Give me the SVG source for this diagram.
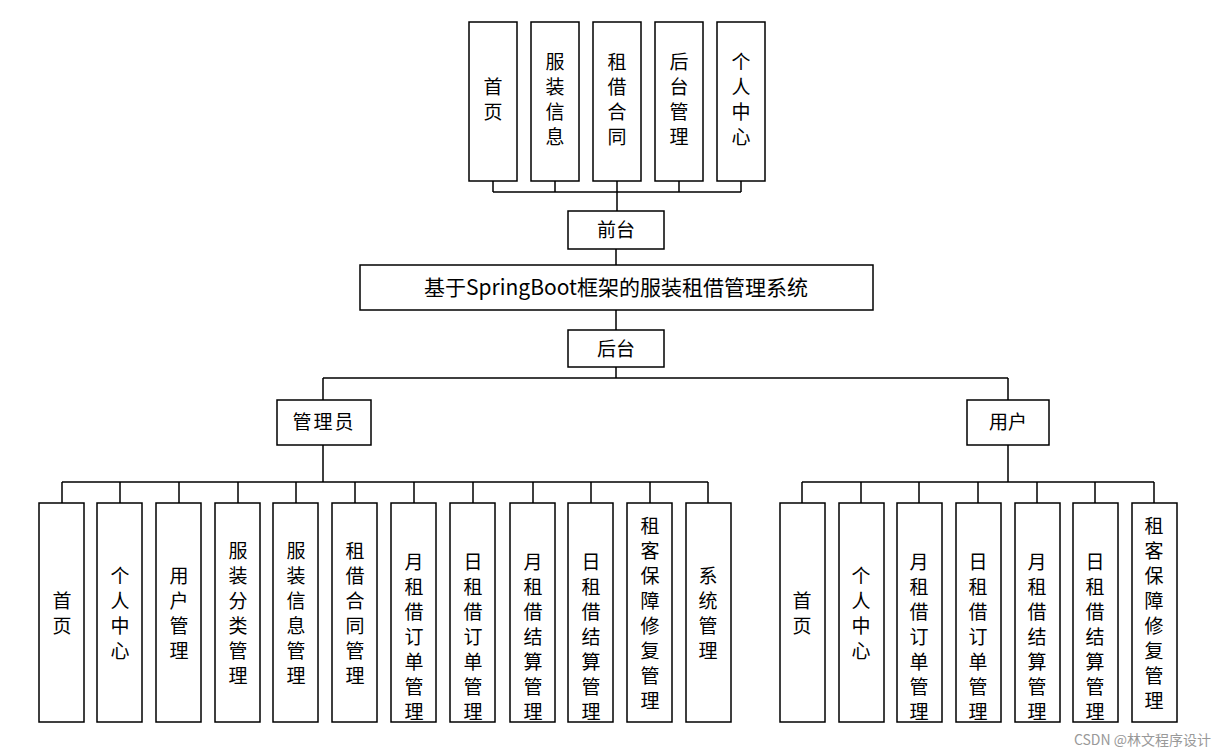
<svg xmlns="http://www.w3.org/2000/svg" width="1215" height="749" viewBox="0 0 1215 749">
<style>
rect{fill:#fff;stroke:#000;stroke-width:1.5}
text{font-family:"Noto Sans CJK SC","Noto Sans",sans-serif;font-size:19px;text-anchor:middle;fill:#000}
.c path{fill:none;stroke:#000;stroke-width:1.5}
.wm{font-size:14px;fill:#999;text-anchor:end}
</style>
<rect width="1215" height="749" style="stroke:none"/>
<g class="c">
<path d="M493 181V192M555 181V192M617 181V211M679 181V192M741 181V192M493 192H741"/>
<path d="M616 249V265M616 310V330M616 367V378M323 378H1008M323 378V400M1008 378V400"/>
<path d="M323 445V482M62 482H708M62 482V503M120 482V503M179 482V503M238 482V503M296 482V503M355 482V503M414 482V503M473 482V503M533 482V503M591 482V503M650 482V503M708 482V503"/>
<path d="M1008 445V482M802 482H1154M802 482V503M861 482V503M919 482V503M978 482V503M1037 482V503M1095 482V503M1154 482V503"/>
</g>
<g id="t1"><rect x="469" y="22" width="48" height="159"/><text x="493"><tspan x="493" y="94">首</tspan><tspan x="493" dy="25">页</tspan></text></g>
<g id="t2"><rect x="531" y="22" width="48" height="159"/><text><tspan x="555" y="69">服</tspan><tspan x="555" dy="25">装</tspan><tspan x="555" dy="25">信</tspan><tspan x="555" dy="25">息</tspan></text></g>
<g id="t3"><rect x="593" y="22" width="48" height="159"/><text><tspan x="617" y="69">租</tspan><tspan x="617" dy="25">借</tspan><tspan x="617" dy="25">合</tspan><tspan x="617" dy="25">同</tspan></text></g>
<g id="t4"><rect x="655" y="22" width="48" height="159"/><text><tspan x="679" y="69">后</tspan><tspan x="679" dy="25">台</tspan><tspan x="679" dy="25">管</tspan><tspan x="679" dy="25">理</tspan></text></g>
<g id="t5"><rect x="717" y="22" width="48" height="159"/><text><tspan x="741" y="69">个</tspan><tspan x="741" dy="25">人</tspan><tspan x="741" dy="25">中</tspan><tspan x="741" dy="25">心</tspan></text></g>
<g id="qt"><rect x="568" y="211" width="96" height="38"/><text x="616" y="237">前台</text></g>
<g id="main"><rect x="360" y="265" width="513" height="45"/><text x="616" y="295" style="font-size:21px">基于SpringBoot框架的服装租借管理系统</text></g>
<g id="ht"><rect x="568" y="330" width="96" height="37"/><text x="616" y="356">后台</text></g>
<g id="admin"><rect x="277" y="400" width="94" height="45"/><text x="324" y="429" letter-spacing="2">管理员</text></g>
<g id="user"><rect x="967" y="400" width="82" height="45"/><text x="1008" y="429">用户</text></g>
<g id="a1"><rect x="39" y="503" width="45" height="219"/><text><tspan x="62" y="608">首</tspan><tspan x="62" dy="25">页</tspan></text></g>
<g id="a2"><rect x="97" y="503" width="45" height="219"/><text><tspan x="120" y="583">个</tspan><tspan x="120" dy="25">人</tspan><tspan x="120" dy="25">中</tspan><tspan x="120" dy="25">心</tspan></text></g>
<g id="a3"><rect x="156" y="503" width="45" height="219"/><text><tspan x="179" y="583">用</tspan><tspan x="179" dy="25">户</tspan><tspan x="179" dy="25">管</tspan><tspan x="179" dy="25">理</tspan></text></g>
<g id="a4"><rect x="215" y="503" width="45" height="219"/><text><tspan x="238" y="558">服</tspan><tspan x="238" dy="25">装</tspan><tspan x="238" dy="25">分</tspan><tspan x="238" dy="25">类</tspan><tspan x="238" dy="25">管</tspan><tspan x="238" dy="25">理</tspan></text></g>
<g id="a5"><rect x="273" y="503" width="45" height="219"/><text><tspan x="296" y="558">服</tspan><tspan x="296" dy="25">装</tspan><tspan x="296" dy="25">信</tspan><tspan x="296" dy="25">息</tspan><tspan x="296" dy="25">管</tspan><tspan x="296" dy="25">理</tspan></text></g>
<g id="a6"><rect x="332" y="503" width="45" height="219"/><text><tspan x="355" y="558">租</tspan><tspan x="355" dy="25">借</tspan><tspan x="355" dy="25">合</tspan><tspan x="355" dy="25">同</tspan><tspan x="355" dy="25">管</tspan><tspan x="355" dy="25">理</tspan></text></g>
<g id="a7"><rect x="391" y="503" width="45" height="219"/><text><tspan x="414" y="569">月</tspan><tspan x="414" dy="25">租</tspan><tspan x="414" dy="25">借</tspan><tspan x="414" dy="25">订</tspan><tspan x="414" dy="25">单</tspan><tspan x="414" dy="25">管</tspan><tspan x="414" dy="25">理</tspan></text></g>
<g id="a8"><rect x="450" y="503" width="45" height="219"/><text><tspan x="473" y="569">日</tspan><tspan x="473" dy="25">租</tspan><tspan x="473" dy="25">借</tspan><tspan x="473" dy="25">订</tspan><tspan x="473" dy="25">单</tspan><tspan x="473" dy="25">管</tspan><tspan x="473" dy="25">理</tspan></text></g>
<g id="a9"><rect x="510" y="503" width="45" height="219"/><text><tspan x="533" y="569">月</tspan><tspan x="533" dy="25">租</tspan><tspan x="533" dy="25">借</tspan><tspan x="533" dy="25">结</tspan><tspan x="533" dy="25">算</tspan><tspan x="533" dy="25">管</tspan><tspan x="533" dy="25">理</tspan></text></g>
<g id="a10"><rect x="568" y="503" width="45" height="219"/><text><tspan x="591" y="569">日</tspan><tspan x="591" dy="25">租</tspan><tspan x="591" dy="25">借</tspan><tspan x="591" dy="25">结</tspan><tspan x="591" dy="25">算</tspan><tspan x="591" dy="25">管</tspan><tspan x="591" dy="25">理</tspan></text></g>
<g id="a11"><rect x="627" y="503" width="45" height="219"/><text><tspan x="650" y="533">租</tspan><tspan x="650" dy="25">客</tspan><tspan x="650" dy="25">保</tspan><tspan x="650" dy="25">障</tspan><tspan x="650" dy="25">修</tspan><tspan x="650" dy="25">复</tspan><tspan x="650" dy="25">管</tspan><tspan x="650" dy="25">理</tspan></text></g>
<g id="a12"><rect x="686" y="503" width="45" height="219"/><text><tspan x="708" y="583">系</tspan><tspan x="708" dy="25">统</tspan><tspan x="708" dy="25">管</tspan><tspan x="708" dy="25">理</tspan></text></g>
<g id="u1"><rect x="780" y="503" width="45" height="219"/><text><tspan x="802" y="608">首</tspan><tspan x="802" dy="25">页</tspan></text></g>
<g id="u2"><rect x="839" y="503" width="45" height="219"/><text><tspan x="861" y="583">个</tspan><tspan x="861" dy="25">人</tspan><tspan x="861" dy="25">中</tspan><tspan x="861" dy="25">心</tspan></text></g>
<g id="u3"><rect x="897" y="503" width="45" height="219"/><text><tspan x="919" y="569">月</tspan><tspan x="919" dy="25">租</tspan><tspan x="919" dy="25">借</tspan><tspan x="919" dy="25">订</tspan><tspan x="919" dy="25">单</tspan><tspan x="919" dy="25">管</tspan><tspan x="919" dy="25">理</tspan></text></g>
<g id="u4"><rect x="956" y="503" width="45" height="219"/><text><tspan x="978" y="569">日</tspan><tspan x="978" dy="25">租</tspan><tspan x="978" dy="25">借</tspan><tspan x="978" dy="25">订</tspan><tspan x="978" dy="25">单</tspan><tspan x="978" dy="25">管</tspan><tspan x="978" dy="25">理</tspan></text></g>
<g id="u5"><rect x="1015" y="503" width="45" height="219"/><text><tspan x="1037" y="569">月</tspan><tspan x="1037" dy="25">租</tspan><tspan x="1037" dy="25">借</tspan><tspan x="1037" dy="25">结</tspan><tspan x="1037" dy="25">算</tspan><tspan x="1037" dy="25">管</tspan><tspan x="1037" dy="25">理</tspan></text></g>
<g id="u6"><rect x="1073" y="503" width="45" height="219"/><text><tspan x="1095" y="569">日</tspan><tspan x="1095" dy="25">租</tspan><tspan x="1095" dy="25">借</tspan><tspan x="1095" dy="25">结</tspan><tspan x="1095" dy="25">算</tspan><tspan x="1095" dy="25">管</tspan><tspan x="1095" dy="25">理</tspan></text></g>
<g id="u7"><rect x="1132" y="503" width="45" height="219"/><text><tspan x="1154" y="533">租</tspan><tspan x="1154" dy="25">客</tspan><tspan x="1154" dy="25">保</tspan><tspan x="1154" dy="25">障</tspan><tspan x="1154" dy="25">修</tspan><tspan x="1154" dy="25">复</tspan><tspan x="1154" dy="25">管</tspan><tspan x="1154" dy="25">理</tspan></text></g>
<text class="wm" x="1211" y="745">CSDN @林文程序设计</text>
</svg>
